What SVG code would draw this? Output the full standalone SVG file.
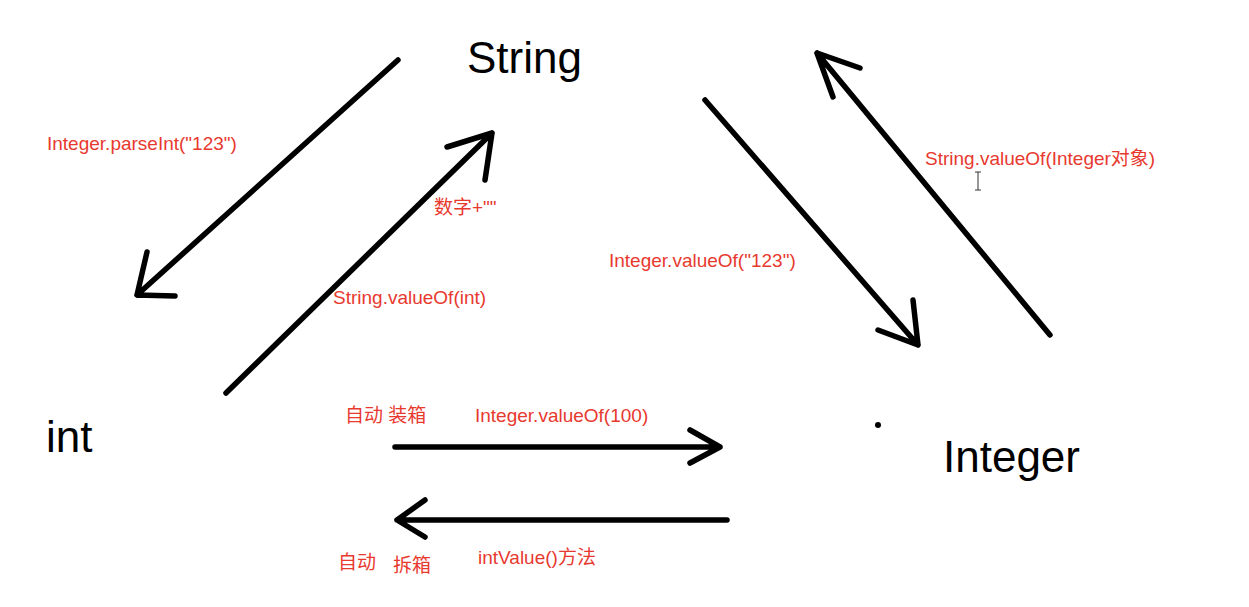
<svg xmlns="http://www.w3.org/2000/svg" width="1249" height="607" viewBox="0 0 1249 607">
<style>
.big{font-family:"Liberation Sans",Arial,sans-serif;font-size:44px;fill:#000}
.lbl{font-family:"Liberation Sans","Noto Sans CJK SC",sans-serif;font-size:19px;fill:#e8392f}
.ln{fill:none;stroke:#000;stroke-width:5.5;stroke-linecap:round;stroke-linejoin:round}
</style>
<rect width="1249" height="607" fill="#fff"/>
<g id="node-string"><text class="big" x="467" y="73">String</text></g>
<g id="node-int"><text class="big" x="46" y="452">int</text></g>
<g id="node-integer"><text class="big" x="943" y="472">Integer</text></g>
<g id="connectors">
<path class="ln" d="M398,60 L137,295 M147,252 L137,295 L175,296"/>
<path class="ln" d="M226,393 L492,133 M447,147 L492,133 L485,180"/>
<path class="ln" d="M705,100 L918,345 M878,330 L918,345 L913,300"/>
<path class="ln" d="M1050,335 L817,53 M860,68 L817,53 L833,97"/>
<path class="ln" d="M395,447 L720,447 M690,430 L720,447 L690,463"/>
<path class="ln" d="M727,520 L397,520 M425,500 L397,520 L425,537"/>
</g>
<g id="labels">
<text class="lbl" x="47" y="150">Integer.parseInt("123")</text>
<text class="lbl" x="434" y="214">数字+""</text>
<text class="lbl" x="333" y="304">String.valueOf(int)</text>
<text class="lbl" x="609" y="267">Integer.valueOf("123")</text>
<text class="lbl" x="925" y="165">String.valueOf(Integer对象)</text>
<text class="lbl" x="345" y="422">自动 装箱</text>
<text class="lbl" x="475" y="422">Integer.valueOf(100)</text>
<text class="lbl" x="338" y="569">自动</text>
<text class="lbl" x="393" y="572">拆箱</text>
<text class="lbl" x="478" y="564">intValue()方法</text>
</g>
<circle cx="878" cy="425" r="3" fill="#000"/>
<path d="M975,172 h6 M978,172 v18 M975,190 h6" stroke="#333" stroke-width="1" fill="none"/>
</svg>
